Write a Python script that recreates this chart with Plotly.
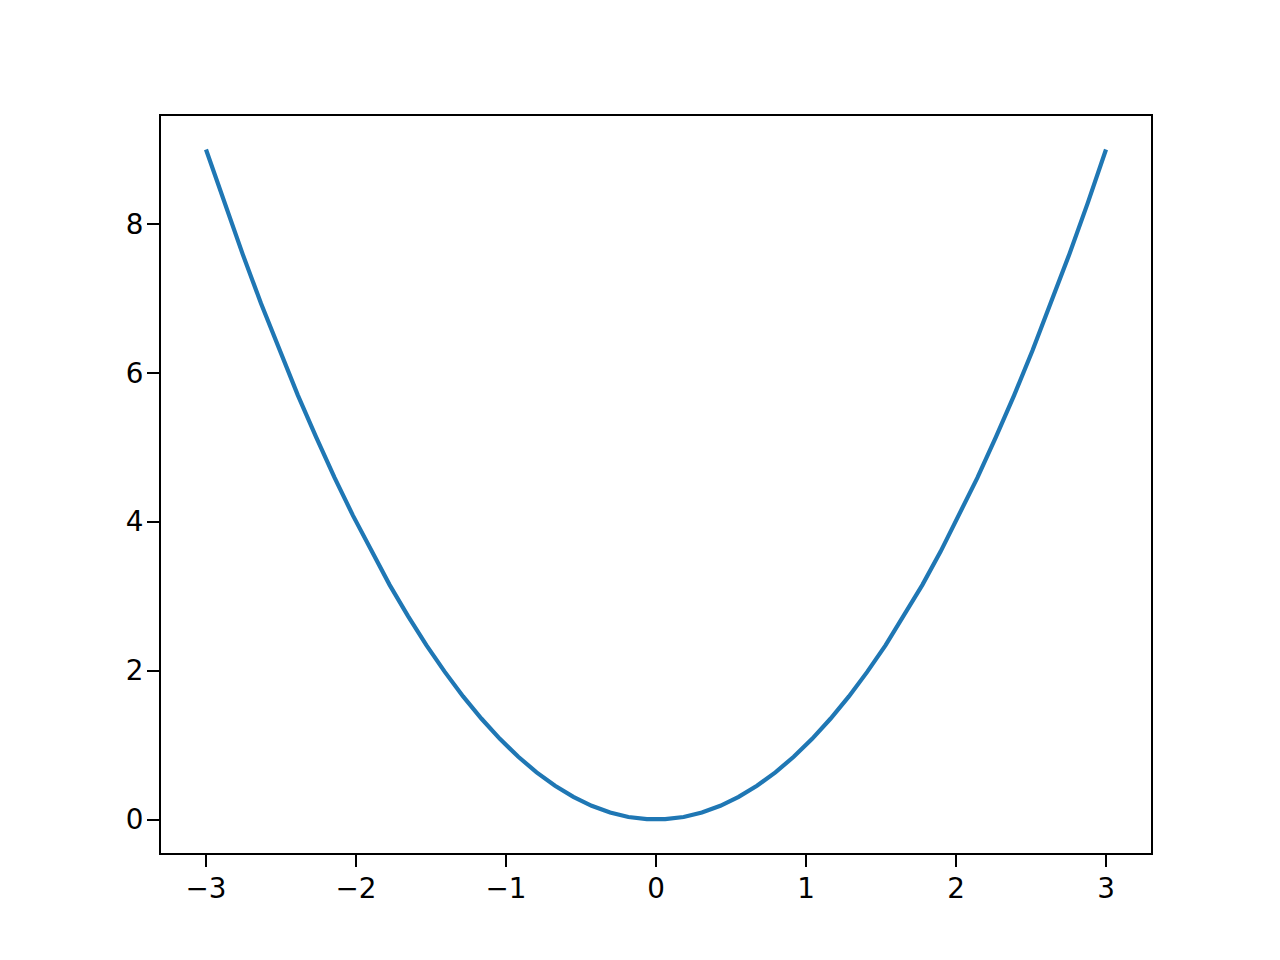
import plotly.graph_objects as go

x_neg = [-3.000, -2.878, -2.755, -2.633, -2.510, -2.388, -2.265, -2.143, -2.020, -1.898,
         -1.776, -1.653, -1.531, -1.408, -1.286, -1.163, -1.041, -0.918, -0.796, -0.673,
         -0.551, -0.429, -0.306, -0.184, -0.061]
y_neg = [9.000, 8.280, 7.591, 6.931, 6.301, 5.701, 5.132, 4.592, 4.082, 3.602,
         3.152, 2.733, 2.343, 1.983, 1.653, 1.353, 1.083, 0.843, 0.633, 0.454,
         0.304, 0.184, 0.094, 0.034, 0.004]
x_pos = [0.061, 0.184, 0.306, 0.429, 0.551, 0.673, 0.796, 0.918, 1.041, 1.163,
         1.286, 1.408, 1.531, 1.653, 1.776, 1.898, 2.020, 2.143, 2.265, 2.388,
         2.510, 2.633, 2.755, 2.878, 3.000]
y_pos = [0.004, 0.034, 0.094, 0.184, 0.304, 0.454, 0.633, 0.843, 1.083, 1.353,
         1.653, 1.983, 2.343, 2.733, 3.152, 3.602, 4.082, 4.592, 5.132, 5.701,
         6.301, 6.931, 7.591, 8.280, 9.000]
x_vals = x_neg + x_pos
y_vals = y_neg + y_pos

x_ticks = [-3, -2, -1, 0, 1, 2, 3]
y_ticks = [0, 2, 4, 6, 8]

fig = go.Figure()
fig.add_trace(go.Scatter(x=x_vals, y=y_vals, mode="lines",
                         line=dict(color="#1f77b4", width=4.2)))

axis_common = dict(
    showgrid=False, zeroline=False, showline=True, linecolor="black", linewidth=2.2,
    mirror=True, ticks="outside", ticklen=12, tickwidth=2.2, tickcolor="black",
    tickfont=dict(family="DejaVu Sans", size=27.8, color="black"),
    ticklabelstandoff=-2,
)
fig.update_xaxes(range=[-3.3, 3.3], tickvals=x_ticks, **axis_common)
fig.update_yaxes(range=[-0.45, 9.45], tickvals=y_ticks, **axis_common)

fig.update_layout(
    width=1280, height=960,
    margin=dict(l=153, r=137, t=108, b=115, pad=0),
    plot_bgcolor="white", paper_bgcolor="white",
    showlegend=False,
)

fig.write_html("out.html")
